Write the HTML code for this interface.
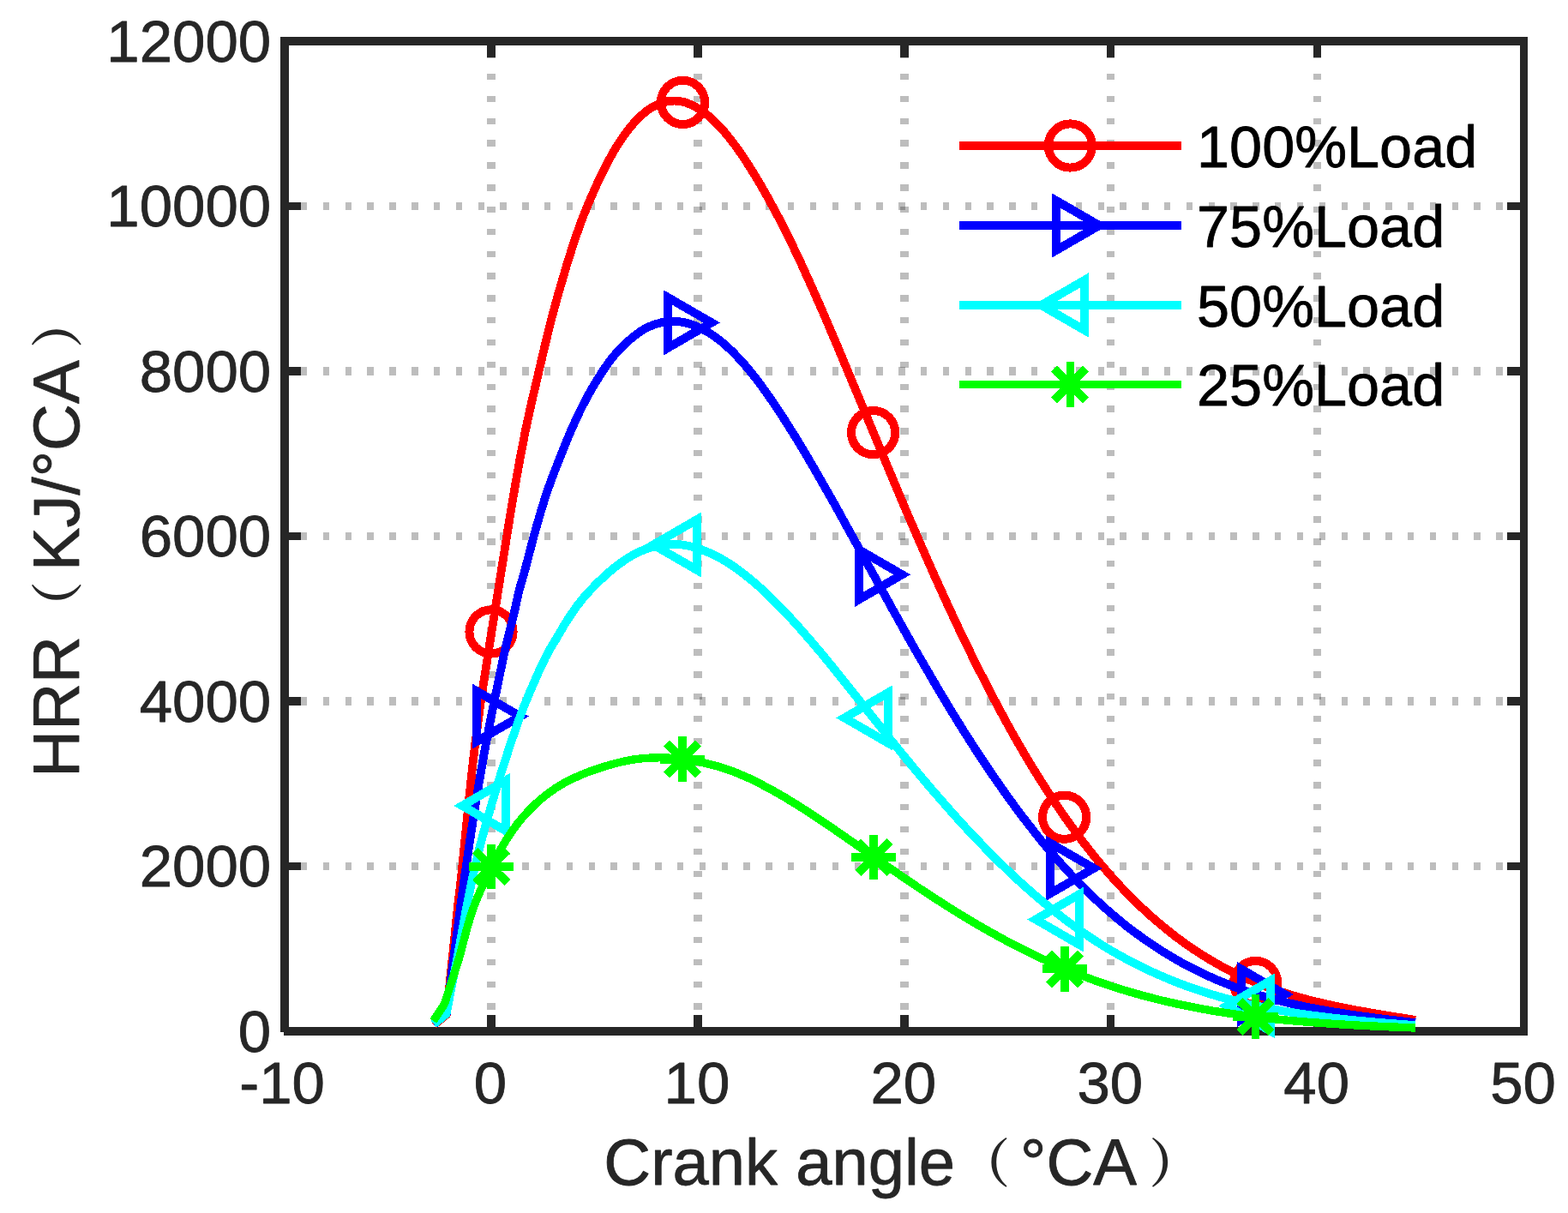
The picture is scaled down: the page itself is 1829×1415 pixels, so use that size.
<!DOCTYPE html>
<html lang="en"><head><meta charset="utf-8"><title>HRR vs Crank angle</title>
<style>
html,body{margin:0;padding:0;background:#fff;}
body{width:1829px;height:1415px;overflow:hidden;}
svg{display:block;}
text{font-family:"Liberation Sans","Noto Sans CJK SC",sans-serif;stroke-linejoin:round;}
.tk{font-size:69px;fill:#262626;stroke:#262626;stroke-width:0.8;}
.lb{font-size:76px;fill:#262626;stroke:#262626;stroke-width:0.8;}
.lg{font-size:69px;fill:#000;stroke:#000;stroke-width:0.8;}
.cjk{font-family:"Noto Serif CJK SC","Noto Sans CJK SC",serif;font-size:60.6px;font-weight:700;stroke-width:0;}
.ax{stroke:#262626;fill:none;stroke-linecap:butt;stroke-width:9.6;}
.gr{stroke:#262626;stroke-opacity:0.3;fill:none;stroke-width:9.6;}
.ln{fill:none;stroke-linejoin:round;stroke-linecap:butt;}
.mk{fill:none;stroke-linejoin:miter;stroke-miterlimit:10;stroke-linecap:butt;}
</style></head><body>
<svg width="1829" height="1415" viewBox="0 0 1829 1415" shape-rendering="crispEdges">
<rect width="1829" height="1415" fill="#fff"/>
<g class="gr">
<line x1="572.92" y1="60.2" x2="572.92" y2="1185" stroke-dasharray="7.4 18.42"/>
<line x1="813.83" y1="60.2" x2="813.83" y2="1185" stroke-dasharray="7.4 18.42"/>
<line x1="1054.75" y1="60.2" x2="1054.75" y2="1185" stroke-dasharray="7.4 18.42"/>
<line x1="1295.67" y1="60.2" x2="1295.67" y2="1185" stroke-dasharray="7.4 18.42"/>
<line x1="1536.58" y1="60.2" x2="1536.58" y2="1185" stroke-dasharray="7.4 18.42"/>
<line x1="351" y1="1010.5" x2="1758" y2="1010.5" stroke-dasharray="7.4 18.42"/>
<line x1="351" y1="818" x2="1758" y2="818" stroke-dasharray="7.4 18.42"/>
<line x1="351" y1="625.5" x2="1758" y2="625.5" stroke-dasharray="7.4 18.42"/>
<line x1="351" y1="433" x2="1758" y2="433" stroke-dasharray="7.4 18.42"/>
<line x1="351" y1="240.5" x2="1758" y2="240.5" stroke-dasharray="7.4 18.42"/>
</g>
<g class="ax">
<path d="M327.2 48H1782.3M331.2 1203H1782.3M332 48V1203.8M1777.5 48V1203"/>
<path d="M572.92 48V67.3M572.92 1203V1183.7M813.83 48V67.3M813.83 1203V1183.7M1054.75 48V67.3M1054.75 1203V1183.7M1295.67 48V67.3M1295.67 1203V1183.7M1536.58 48V67.3M1536.58 1203V1183.7M332 1010.5H351.3M1777.5 1010.5H1758.2M332 818H351.3M1777.5 818H1758.2M332 625.5H351.3M1777.5 625.5H1758.2M332 433H351.3M1777.5 433H1758.2M332 240.5H351.3M1777.5 240.5H1758.2"/>
</g>
<g>
<path class="ln" d="M506 1195.5L520.8 1183.6L535 1048L536.7 1034.9L538.4 1019.6L546.8 935.1L551 895.3L554 869.9L557 846.6L560.3 822.1L564.2 796.2L570.1 758L595.3 599.7L601 565.9L606.8 533.8L613.1 501.4L620 469.7L635.6 403.1L643.8 369.9L651.2 342.9L661.8 306.7L669.4 282.9L677.1 260.6L680.6 251.6L684.1 242.9L691.2 226.3L695.8 216L700.4 206.1L705 196.8L712.9 181.8L717.5 173.9L722 166.6L726.5 159.9L731 153.7L735.5 148L740 142.8L745.5 137.1L749.9 133.1L754.3 129.5L758.6 126.4L763 123.8L767.4 121.7L772.9 119.7L777.3 118.5L781.7 117.8L786.2 117.6L789.6 117.7L792.9 118.1L798.6 119.3L804.2 121.3L807.6 122.8L810.9 124.5L817.6 128.5L824.3 133.5L831 139.2L837.7 145.8L844.4 153.1L851 161.2L857.7 169.9L864.4 179.4L872.2 191.2L880.1 203.8L888.1 217.1L896 231.2L908.6 254.5L921.1 279.2L933.5 305.2L948.1 337.4L960.5 365.6L975.1 399.8L1041.5 559L1058.3 598.9L1073 632.9L1089.8 671.2L1105.6 705.9L1121.3 739.5L1137.1 771.9L1155.1 807.3L1171.9 838.9L1180.9 855.1L1189.9 870.9L1198.9 886.2L1206.8 899.2L1214.7 911.8L1223.7 925.9L1231.5 937.7L1240.5 950.9L1248.4 962L1257.4 974.3L1266.4 986.2L1275.4 997.6L1284.4 1008.5L1293.4 1019L1302.4 1029L1312.5 1039.8L1321.5 1048.9L1331.6 1058.7L1341.7 1068L1351.9 1076.8L1362 1085.2L1372.1 1093.1L1382.2 1100.5L1392.3 1107.5L1402.5 1114.1L1412.6 1120.3L1422.7 1126.1L1434 1132.1L1444.1 1137.1L1454.2 1141.8L1464.3 1146L1475.6 1150.4L1486.8 1154.5L1498.1 1158.2L1510.4 1161.9L1522.8 1165.4L1535.2 1168.5L1548.7 1171.7L1562.2 1174.6L1576.8 1177.5L1608.3 1183.1L1651 1189.9" stroke="#ff0000" stroke-width="9.8"/>
<circle cx="573" cy="736.9" r="25.6" stroke="#ff0000" stroke-width="10" class="mk"/>
<circle cx="796.5" cy="119.4" r="25.6" stroke="#ff0000" stroke-width="10" class="mk"/>
<circle cx="1018.6" cy="504.6" r="25.6" stroke="#ff0000" stroke-width="10" class="mk"/>
<circle cx="1241.6" cy="953.2" r="25.6" stroke="#ff0000" stroke-width="10" class="mk"/>
<circle cx="1464.6" cy="1146.5" r="25.6" stroke="#ff0000" stroke-width="10" class="mk"/>
</g>
<g>
<path class="ln" d="M506 1195L520.7 1182.8L537.9 1051.9L542.6 1018.5L547.2 986.7L553.1 948.4L558.9 912.3L564.4 880.9L570.3 849.3L575.3 824L587.9 763.3L591.6 747.7L599.5 716.3L604.7 692.1L606.4 685.7L611.4 668.6L621.5 629.9L626.1 613.1L632.6 591L638.5 572.6L645 554.7L659 519.1L666.3 501.7L674.6 483.4L678.2 476.1L682.9 466.9L687.6 458.3L692.3 450.2L701.3 435.5L705.7 428.9L710.1 422.7L713.4 418.4L717.8 413.1L722.2 408.1L726.6 403.6L732.1 398.6L738.4 393L743.7 389L747.9 386.1L752.1 383.5L756.4 381.4L761.9 379.1L766.2 377.7L771.7 376.2L776.1 375.5L780.6 375L785.1 374.8L791.8 375.2L797.4 376L803.1 377.4L809.8 379.6L815.4 382L822.2 385.4L828.9 389.4L835.7 394.1L841.3 398.4L848 404.2L854.8 410.6L861.5 417.6L868.3 425.1L875 433.1L881.8 441.7L889.7 452.2L902 469.7L915.5 490.2L929 511.7L943.6 536.1L957.1 559.4L972.9 587.2L1041.5 711.4L1058.3 741.5L1074.1 769.2L1091 798.2L1107.8 826.4L1123.6 851.9L1138.2 874.8L1156.2 901.8L1174.2 927.6L1183.2 940L1192.2 952L1209 973.7L1218 984.7L1227 995.4L1236 1005.7L1243.9 1014.5L1252.9 1024.1L1260.8 1032.3L1268.6 1040.1L1277.6 1048.8L1286.6 1057.1L1295.6 1065L1304.6 1072.6L1314.7 1080.8L1323.7 1087.6L1333.9 1095L1342.9 1101.2L1353 1107.9L1363.1 1114.1L1373.2 1120.1L1383.3 1125.7L1393.5 1130.9L1403.6 1135.9L1413.7 1140.5L1423.8 1144.9L1435.1 1149.4L1445.2 1153.2L1456.4 1157L1466.6 1160.2L1477.8 1163.6L1489.1 1166.6L1500.3 1169.4L1512.7 1172.2L1525 1174.9L1550.9 1179.6L1579 1184.1L1611.6 1188.4L1651 1193.1" stroke="#0000ff" stroke-width="9.8"/>
<path d="M556.2 806.3L606.9 835.6L556.2 864.9Z" stroke="#0000ff" stroke-width="10" class="mk"/>
<path d="M779.3 347.1L830 376.4L779.3 405.7Z" stroke="#0000ff" stroke-width="10" class="mk"/>
<path d="M1001.5 641L1052.2 670.3L1001.5 699.6Z" stroke="#0000ff" stroke-width="10" class="mk"/>
<path d="M1225.2 983.6L1275.9 1012.9L1225.2 1042.2Z" stroke="#0000ff" stroke-width="10" class="mk"/>
<path d="M1448.2 1130.7L1498.9 1160L1448.2 1189.3Z" stroke="#0000ff" stroke-width="10" class="mk"/>
</g>
<g>
<path class="ln" d="M506 1194.8L520.5 1183L535 1109L543.8 1060.6L549.7 1030.8L553.5 1013.4L557.3 997.4L561.5 980.8L566.1 963.7L574.9 933.2L585.8 897.6L595.5 867.8L604.7 841L610.8 824.9L618.4 806.4L628.6 783.2L636 767.5L640.9 758.1L649.5 744.1L658.4 728.7L665.1 718.3L672.8 707.2L679.5 698.6L687.5 689.6L697.6 679.2L708.7 668.9L718.4 660.8L727.1 654.5L732.4 651L736.7 648.4L742.1 645.5L746.4 643.4L750.8 641.6L756.2 639.6L761.7 638L766.1 636.9L771.7 635.8L776.1 635.2L780.6 634.9L785.1 634.8L790.7 635L796.3 635.6L803.1 636.8L809.8 638.5L816.6 640.6L823.3 643.1L830.1 646L836.8 649.3L843.5 653.1L850.3 657.2L857 661.7L863.8 666.6L870.5 671.8L878.4 678.3L885.2 684.2L893 691.4L905.4 703.5L917.8 716.3L931.3 731L945.9 747.7L958.3 762.4L972.9 780.2L1039.2 863.2L1056.1 884L1071.8 903L1088.7 923L1105.6 942.3L1121.3 959.9L1137.1 976.8L1155.1 995.4L1173.1 1013.1L1191 1029.9L1209 1045.8L1227 1060.7L1243.9 1073.8L1260.8 1086.1L1277.6 1097.4L1286.6 1103.1L1295.6 1108.5L1304.6 1113.7L1314.7 1119.3L1323.7 1124L1333.9 1129L1342.9 1133.3L1353 1137.8L1363.1 1142.1L1373.2 1146.2L1383.3 1150L1393.5 1153.6L1413.7 1160.1L1423.8 1163.1L1435.1 1166.2L1456.4 1171.4L1478.9 1176.2L1502.6 1180.4L1527.3 1184.1L1553.2 1187.4L1582.4 1190.5L1613.9 1193.3L1651 1196.1" stroke="#00ffff" stroke-width="9.8"/>
<path d="M589.9 910.6L539.2 939.9L589.9 969.2Z" stroke="#00ffff" stroke-width="10" class="mk"/>
<path d="M812.8 606.2L762.1 635.5L812.8 664.8Z" stroke="#00ffff" stroke-width="10" class="mk"/>
<path d="M1035.8 808.1L985.1 837.4L1035.8 866.7Z" stroke="#00ffff" stroke-width="10" class="mk"/>
<path d="M1258.9 1043.3L1208.2 1072.6L1258.9 1101.9Z" stroke="#00ffff" stroke-width="10" class="mk"/>
<path d="M1481.9 1144L1431.2 1173.3L1481.9 1202.6Z" stroke="#00ffff" stroke-width="10" class="mk"/>
</g>
<g>
<path class="ln" d="M505.5 1191L518.4 1171.2L535.1 1119.5L544.1 1085.2L548.8 1069L551.4 1061.3L554 1054.4L557 1046.9L560.8 1037.9L574.1 1008.8L578.2 1000.8L582.9 992.5L591 978.9L596.3 970.9L602.7 962L610 953.1L617.1 945.3L624.7 937.8L632.7 930.8L640.6 924.6L648.4 919.2L657.2 913.9L666.1 909.2L676.1 904.6L687.3 900.1L700.7 895.5L714.1 891.5L726.4 888.4L737.7 886.2L747.8 884.9L760.3 884L771.6 883.7L776.1 883.8L781.7 884.3L806.4 887.3L813.2 888.4L819.9 889.7L832.3 892.6L839.1 894.5L845.8 896.7L852.5 899L859.3 901.6L872.8 907.4L887.4 914.6L900.9 921.8L914.4 929.5L929 938.4L943.6 947.7L957.1 956.7L971.8 966.6L1039.2 1013.5L1071.8 1035.7L1089.8 1047.5L1106.7 1058.3L1122.4 1068.1L1138.2 1077.5L1156.2 1087.8L1174.2 1097.7L1192.2 1107L1209 1115.3L1227 1123.6L1243.9 1130.9L1261.9 1138.1L1278.8 1144.4L1296.8 1150.6L1315.9 1156.5L1335 1161.9L1354.1 1166.8L1374.4 1171.4L1394.6 1175.5L1414.8 1179.2L1436.2 1182.5L1457.6 1185.5L1480.1 1188.1L1503.7 1190.4L1528.4 1192.5L1555.4 1194.4L1583.5 1196.1L1615 1197.6L1651 1199" stroke="#00ff00" stroke-width="9.4"/>
<path d="M546.9 1011H599.3M573.1 984.8V1037.2M554.5 992.5L591.6 1029.5M554.5 1029.5L591.6 992.5" stroke="#00ff00" stroke-width="9.8" class="mk"/>
<path d="M769.8 885.6H822.2M796 859.4V911.8M777.5 867.1L814.5 904.1M777.5 904.1L814.5 867.1" stroke="#00ff00" stroke-width="9.8" class="mk"/>
<path d="M992.9 1000.1H1045.3M1019.1 973.9V1026.3M1000.6 981.6L1037.6 1018.6M1000.6 1018.6L1037.6 981.6" stroke="#00ff00" stroke-width="9.8" class="mk"/>
<path d="M1215.7 1130.3H1268.1M1241.9 1104.1V1156.5M1223.4 1111.8L1260.4 1148.8M1223.4 1148.8L1260.4 1111.8" stroke="#00ff00" stroke-width="9.8" class="mk"/>
<path d="M1438.3 1186.2H1490.7M1464.5 1160V1212.4M1446 1167.7L1483 1204.7M1446 1204.7L1483 1167.7" stroke="#00ff00" stroke-width="9.8" class="mk"/>
</g>
<line x1="1119" y1="170" x2="1378" y2="170" stroke="#ff0000" stroke-width="10"/>
<circle cx="1248.4" cy="170" r="25.6" stroke="#ff0000" stroke-width="10" class="mk"/>
<line x1="1119" y1="263" x2="1378" y2="263" stroke="#0000ff" stroke-width="10"/>
<path d="M1231.5 233.7L1282.2 263L1231.5 292.3Z" stroke="#0000ff" stroke-width="10" class="mk"/>
<line x1="1119" y1="356" x2="1378" y2="356" stroke="#00ffff" stroke-width="10"/>
<path d="M1265.3 326.7L1214.6 356L1265.3 385.3Z" stroke="#00ffff" stroke-width="10" class="mk"/>
<line x1="1119" y1="448.5" x2="1378" y2="448.5" stroke="#00ff00" stroke-width="9"/>
<path d="M1222.2 448.5H1274.6M1248.4 422.3V474.7M1229.9 430L1266.9 467M1229.9 467L1266.9 430" stroke="#00ff00" stroke-width="9.8" class="mk"/>
<text class="lg" transform="translate(1396 194.5) scale(0.992 1)">100%Load</text>
<text class="lg" transform="translate(1396 287.5) scale(0.992 1)">75%Load</text>
<text class="lg" transform="translate(1396 380.5) scale(0.992 1)">50%Load</text>
<text class="lg" transform="translate(1396 473) scale(0.992 1)">25%Load</text>
<text class="tk" text-anchor="middle" transform="translate(329.1 1286.6)">-10</text>
<text class="tk" text-anchor="middle" transform="translate(572.02 1286.6)">0</text>
<text class="tk" text-anchor="middle" transform="translate(812.93 1286.6)">10</text>
<text class="tk" text-anchor="middle" transform="translate(1053.85 1286.6)">20</text>
<text class="tk" text-anchor="middle" transform="translate(1294.77 1286.6)">30</text>
<text class="tk" text-anchor="middle" transform="translate(1535.68 1286.6)">40</text>
<text class="tk" text-anchor="middle" transform="translate(1776.6 1286.6)">50</text>
<text class="tk" text-anchor="end" transform="translate(316.2 1226.8)">0</text>
<text class="tk" text-anchor="end" transform="translate(316.2 1034.3)">2000</text>
<text class="tk" text-anchor="end" transform="translate(316.2 841.8)">4000</text>
<text class="tk" text-anchor="end" transform="translate(316.2 649.3)">6000</text>
<text class="tk" text-anchor="end" transform="translate(316.2 456.8)">8000</text>
<text class="tk" text-anchor="end" transform="translate(316.2 264.3)">10000</text>
<text class="tk" text-anchor="end" transform="translate(316.2 71.8)">12000</text>
<text class="lb" transform="translate(704.3 1381.6) scale(1 1.005)"><tspan x="0" y="0">Crank angle</tspan><tspan class="cjk" x="413.12" y="-2.6">（</tspan><tspan x="485.72" y="0">°CA</tspan><tspan class="cjk" x="636.08" y="-2.6">）</tspan></text>
<text class="lb" transform="translate(92 906.7) rotate(-90) scale(1 1.005)"><tspan x="0" y="0">HRR</tspan><tspan class="cjk" x="168.02" y="-2.6">（</tspan><tspan x="240.62" y="0">KJ/°CA</tspan><tspan class="cjk" x="500.8" y="-2.6">）</tspan></text>
</svg>
</body></html>
